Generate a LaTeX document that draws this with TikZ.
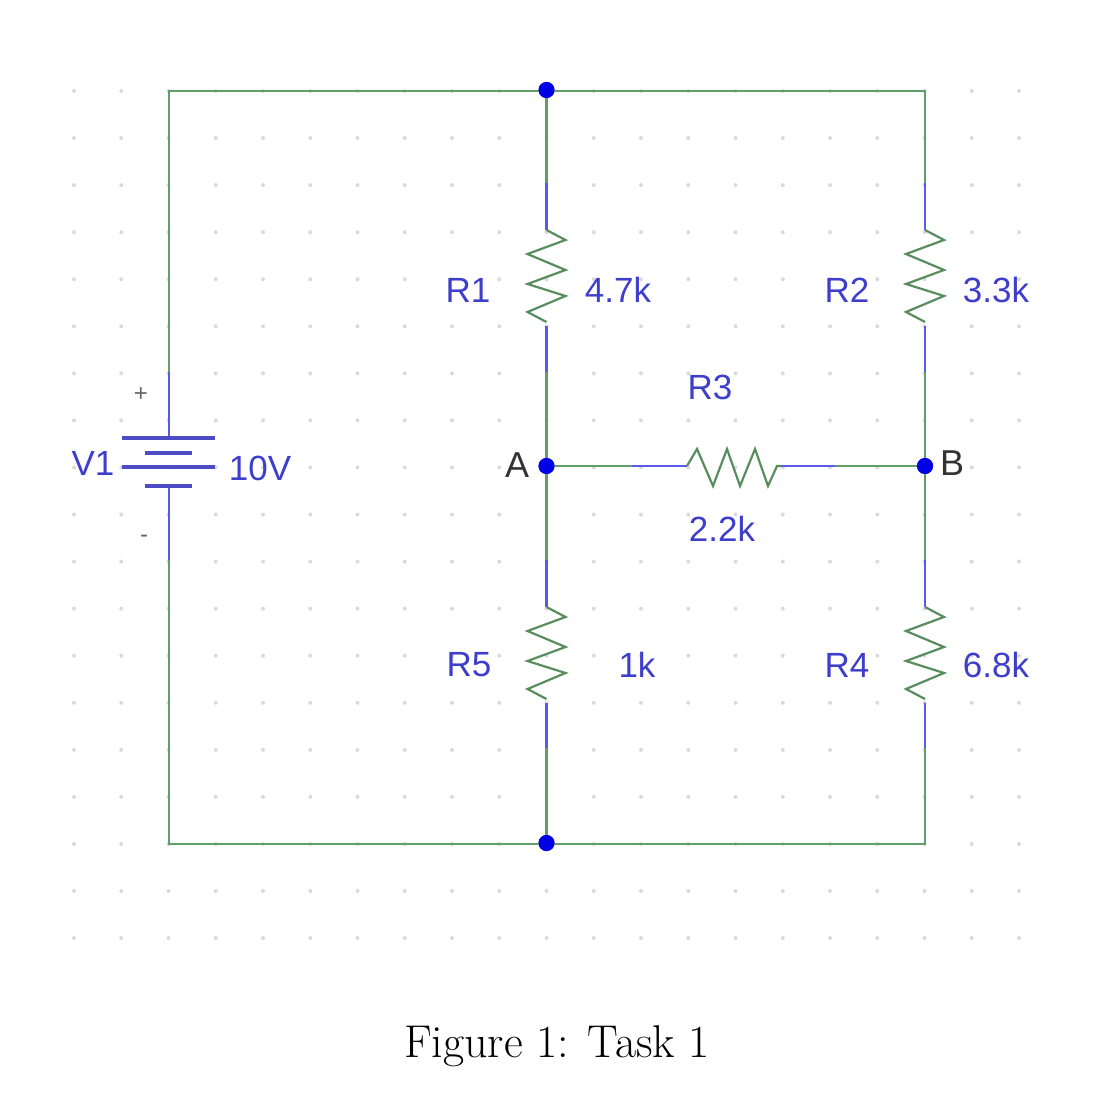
\documentclass[tikz,border=0pt]{standalone}
\usepackage{fontspec}
\setmainfont{Liberation Sans}
\newfontfamily\capfont{Latin Modern Roman}
\definecolor{wiregreen}{RGB}{98,158,104}
\definecolor{partblue}{RGB}{90,90,232}
\definecolor{labelblue}{RGB}{62,62,205}
\definecolor{griddot}{RGB}{218,218,218}
\definecolor{dotblue}{RGB}{0,0,230}
\tikzset{
  wire/.style={draw=wiregreen,line width=1.4pt},
  lead/.style={draw=partblue,line width=1.4pt},
  zig/.style={draw=wiregreen!90!black,line width=1.1pt,line join=miter},
  plate/.style={draw=partblue!85!black,line width=1.7pt},
  lbl/.style={text=labelblue,font=\fontsize{17.5}{20}\selectfont,inner sep=0pt},
  dark/.style={text=black!80,font=\fontsize{18}{20}\selectfont,inner sep=0pt},
  sign/.style={text=black!60,font=\fontsize{12}{13}\selectfont,inner sep=0pt},
  junction/.style={circle,fill=dotblue,draw=none,minimum size=8pt,inner sep=0pt}
}
\newcommand{\vres}[2]{% x, top y of zigzag
  \draw[zig] (#1,#2) -- ++(19,10) -- ++(-38,14) -- ++(38,16) -- ++(-38,14) -- ++(38,12) -- ++(-38,16) -- ++(19,10);
}
\begin{document}
\begin{tikzpicture}[x=0.5pt,y=-0.5pt]
\useasboundingbox (0,0) rectangle (1106,1106);
\foreach \i in {0,...,20}\foreach \j in {0,...,18}
  \fill[griddot] ({74+47.25*\i},{91+47.06*\j}) circle (1pt);

% reference points
\node[junction] (top) at (546.5,90) {};
\node[junction] (bot) at (546.5,843) {};
\node[junction] (A) at (546.5,466) {};
\node[junction] (B) at (925,466) {};
\coordinate (tl) at (169,91);
\coordinate (tr) at (925,91);
\coordinate (bl) at (169,844);
\coordinate (br) at (925,844);
\coordinate (batTop) at (169,372);
\coordinate (batBot) at (169,560);
\coordinate (r1a) at (546.5,183); \coordinate (r1b) at (546.5,372);
\coordinate (r2a) at (925,183); \coordinate (r2b) at (925,372);
\coordinate (r5a) at (546.5,560); \coordinate (r5b) at (546.5,748);
\coordinate (r4a) at (925,560); \coordinate (r4b) at (925,748);
\coordinate (r3a) at (632,466); \coordinate (r3b) at (835,466);

\draw[wire,line join=miter] (batTop) -- (tl) -- (tr) -- (r2a);
\draw[wire,line join=miter] (batBot) -- (bl) -- (br) -- (r4b);
\draw[wire] (top) -- (r1a);
\draw[wire] (r1b) -- (A);
\draw[wire] (A) -- (r5a);
\draw[wire] (r5b) -- (bot);
\draw[wire] (r2b) -- (B);
\draw[wire] (B) -- (r4a);
\draw[wire] (A) -- (r3a);
\draw[wire] (r3b) -- (B);

% leads
\draw[lead] (r1a) -- (546.5,230) (546.5,326) -- (r1b);
\draw[lead] (r2a) -- (925,230) (925,326) -- (r2b);
\draw[lead] (r5a) -- (546.5,607) (546.5,703) -- (r5b);
\draw[lead] (r4a) -- (925,607) (925,703) -- (r4b);
\draw[lead] (r3a) -- (687,466) (781,466) -- (r3b);

% resistors
\vres{546.5}{230}
\vres{925}{230}
\vres{546.5}{607}
\vres{925}{607}
\draw[zig] (687,466) -- (697,449) -- (713,486) -- (727,449) -- (740,486) -- (755,449) -- (768,486) -- (777,466) -- (781,466);

% battery
\draw[lead] (batTop) -- (169,438);
\draw[lead] (169,486) -- (batBot);
\draw[plate] (122,438) -- (215,438);
\draw[plate] (145,453) -- (192,453);
\draw[plate] (122,467) -- (215,467);
\draw[plate] (145,486) -- (192,486);
\node[sign] (plus) at (141,395) {+};
\node[sign] (minus) at (144,539) {-};

% labels
\node[lbl] (v1) at (93,463) {V1};
\node[lbl] (v1v) at (260,468) {10V};
\node[lbl] (r1) at (468,290) {R1};
\node[lbl] (r1v) at (618,290) {4.7k};
\node[lbl] (r2) at (847,290) {R2};
\node[lbl] (r2v) at (996,290) {3.3k};
\node[lbl] (r3) at (710,387) {R3};
\node[lbl] (r3v) at (722,529) {2.2k};
\node[lbl] (r5) at (469,665) {R5};
\node[lbl] (r5v) at (637,665) {1k};
\node[lbl] (r4) at (847,665) {R4};
\node[lbl] (r4v) at (996,665) {6.8k};
\node[dark] (la) at (517,465) {A};
\node[dark] (lb) at (952,463) {B};
\node[inner sep=0pt,font=\capfont\fontsize{23}{27}\selectfont] (cap) at (557,1046) {Figure 1: Task 1};

% junctions over wires
\fill[dotblue] (top) circle (4pt);
\fill[dotblue] (bot) circle (4pt);
\fill[dotblue] (A) circle (4pt);
\fill[dotblue] (B) circle (4pt);
\end{tikzpicture}
\end{document}
